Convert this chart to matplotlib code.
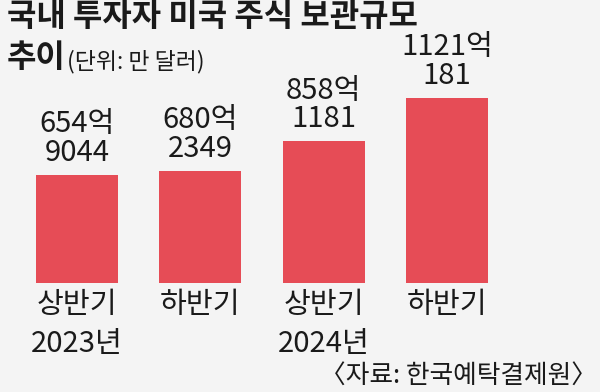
import matplotlib
matplotlib.use("Agg")
import matplotlib.pyplot as plt

# data (단위: 만 달러)
halves = ["상반기", "하반기", "상반기", "하반기"]
years = ["2023년", "", "2024년", ""]
values = [6549044, 6802349, 8581181, 11210181]
top_labels = ["654억", "680억", "858억", "1121억"]
bottom_labels = ["9044", "2349", "1181", "181"]

bg = "#f4f4f4"
bar_color = "#e64c56"
kr = ["Noto Sans CJK KR", "DejaVu Sans"]

fig = plt.figure(figsize=(6, 3.92), dpi=100, facecolor=bg)
ax = fig.add_axes([15.25 / 600, 109 / 392, 493.5 / 600, 223 / 392])
ax.set_facecolor(bg)

x = range(len(values))
bars = ax.bar(x, values, width=0.664, color=bar_color)
ax.set_xlim(-0.5, 3.5)
ax.set_ylim(0, 11210181 * 223 / 185)
ax.axis("off")

# value labels above bars, category labels below
for i, v in enumerate(values):
    ax.annotate(top_labels[i] + "\n" + bottom_labels[i], (i, v),
                xytext=(0, 5), textcoords="offset points",
                ha="center", va="bottom", fontsize=21, family=kr,
                color="#1a1a1a", linespacing=0.95)
    ax.annotate(halves[i] + ("\n" + years[i] if years[i] else ""), (i, 0),
                xytext=(0, -5), textcoords="offset points",
                ha="center", va="top", fontsize=21, family=kr,
                color="#1a1a1a", linespacing=1.4)

# title
fig.text(7 / 600, 1 - 1 / 392, "국내 투자자 미국 주식 보관규모", ha="left", va="top",
         fontsize=23, fontweight="bold", family=kr, color="#1a1a1a")
fig.text(7 / 600, 1 - 42 / 392, "추이", ha="left", va="top",
         fontsize=23, fontweight="bold", family=kr, color="#1a1a1a")
fig.text(67 / 600, 1 - 50 / 392, "(단위: 만 달러)", ha="left", va="top",
         fontsize=16.5, family=kr, color="#1a1a1a")

# source
fig.text(597 / 600, 3 / 392, "〈자료: 한국예탁결제원〉", ha="right", va="bottom",
         fontsize=18.5, family=kr, color="#1a1a1a")

fig.savefig("out.png", dpi=100, facecolor=bg)
